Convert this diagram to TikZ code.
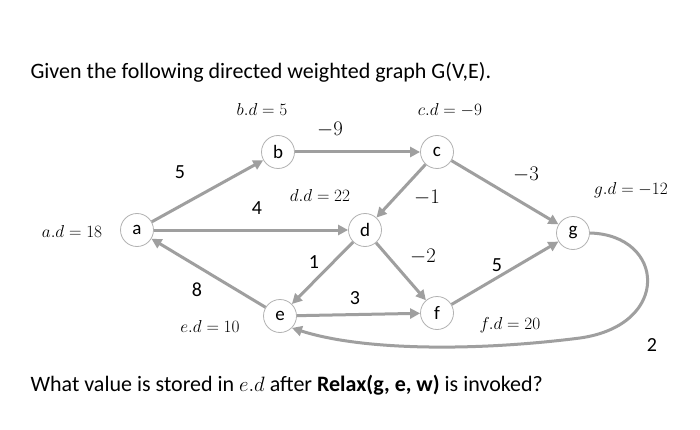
\documentclass[tikz,border=0pt]{standalone}
\usepackage{fontspec}
\setmainfont{Carlito}
\usetikzlibrary{arrows.meta}
\begin{document}
\begin{tikzpicture}[x=1pt,y=-1pt,
  vert/.style={circle,draw=gray!60,line width=0.8pt,fill=white,minimum size=33pt,inner sep=0pt,font=\fontsize{19}{22}\selectfont},
  edge/.style={draw=gray!75,line width=3pt,-{Triangle[length=10pt,width=10pt]}},
  wt/.style={font=\fontsize{20}{22}\selectfont},
  dl/.style={font=\fontsize{17}{20}\selectfont}]
\useasboundingbox (0,0) rectangle (700,430);
\fill[white] (0,0) rectangle (700,430);
\node[anchor=west,font=\fontsize{22}{26}\selectfont] (title) at (27,72) {Given the following directed weighted graph G(V,E).};
\node[anchor=west,font=\fontsize{22}{26}\selectfont] (q) at (27,385) {What value is stored in $e.d$ after \textbf{Relax(g, e, w)} is invoked?};
\node[vert] (a) at (137,230) {a};
\node[vert] (b) at (278,152) {b};
\node[vert] (c) at (437,152) {c};
\node[vert] (d) at (365,230) {d};
\node[vert] (e) at (280,316) {e};
\node[vert] (f) at (437,313) {f};
\node[vert] (g) at (573,233) {g};
\draw[edge] (a) -- (b);
\draw[edge] (b) -- (c);
\draw[edge] (a) -- (d);
\draw[edge] (c) -- (d);
\draw[edge] (c) -- (g);
\draw[edge] (d) -- (e);
\draw[edge] (d) -- (f);
\draw[edge] (e) -- (f);
\draw[edge] (f) -- (g);
\draw[edge] (e) -- (a);
\draw[edge] (g.east) .. controls (665,235) and (672,325) .. (580,338) .. controls (470,352) and (360,350) .. (e.south east);
\node[wt] (w1) at (180,172) {5};
\node[wt] (w2) at (330,130) {$-9$};
\node[wt] (w3) at (257,208) {4};
\node[wt] (w4) at (427,198) {$-1$};
\node[wt] (w5) at (526,175) {$-3$};
\node[wt] (w6) at (314,262) {1};
\node[wt] (w7) at (423,257) {$-2$};
\node[wt] (w8) at (355,298) {3};
\node[wt] (w9) at (497,265) {5};
\node[wt] (w10) at (197,290) {8};
\node[wt] (w11) at (652,345) {2};
\node[dl] (lb) at (262,110) {$b.d=5$};
\node[dl] (lc) at (450,110) {$c.d=-9$};
\node[dl] (ld) at (320,195) {$d.d=22$};
\node[dl] (la) at (72,231) {$a.d=18$};
\node[dl] (le) at (210,326) {$e.d=10$};
\node[dl] (lf) at (510,325) {$f.d=20$};
\node[dl] (lg) at (631,190) {$g.d=-12$};
\end{tikzpicture}
\end{document}
